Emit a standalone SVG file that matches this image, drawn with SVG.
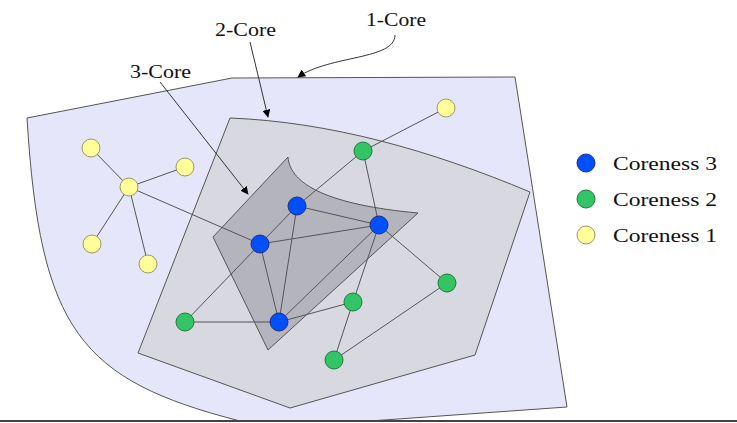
<svg xmlns="http://www.w3.org/2000/svg" width="737" height="423" viewBox="0 0 737 423">
<defs>
<style>
.lbl{font-family:"Liberation Serif","DejaVu Serif",serif;font-size:19px;fill:#111}
.e{stroke:#555;stroke-width:1;fill:none}
.y{fill:#ffff99;stroke:#999966;stroke-width:1}
.g{fill:#33c466;stroke:#1f7a3f;stroke-width:1}
.b{fill:#0050ff;stroke:#1f2f80;stroke-width:1}
.pt{stroke:#333;stroke-width:1;fill:none}
</style>
<marker id="ah" viewBox="0 0 10 10" refX="9" refY="5" markerWidth="8" markerHeight="8" orient="auto"><path d="M0,0 L10,5 L0,10 z" fill="#000"/></marker>
</defs>
<rect width="737" height="423" fill="#fff"/>
<g id="core1"><path d="M27,118 L232,78 L515,77 L567,407 L370,421 L240,421 C80,380 40,330 27,118 Z" fill="#e6e6fa" stroke="#555"/></g>
<g id="core2"><path d="M230,118 C330,122 430,150 530,192 L475,355 L290,408 L138,353 Z" fill="#d8d8e0" stroke="#555"/></g>
<g id="core3"><path d="M213,237 L288,157 C290,185 330,205 418,213 L268,350 Z" fill="#b4b4bc" stroke="#555"/></g>
<line x1="0" y1="421" x2="737" y2="421" stroke="#444" stroke-width="2"/>
<g id="connectors">
<path class="e" d="M129,187L91,148M129,187L185,167M129,187L92,244M129,187L148,264M129,187L260,244M446,108L363,151L297,206M363,151L379,225M297,206L379,225M297,206L260,244M297,206L279,322M260,244L379,225M260,244L279,322M379,225L279,322M260,244L185,322L279,322L353,302M379,225L353,302M379,225L447,283L334,360L353,302"/>
<path class="pt" d="M395,35 C395,60 330,55 298,77" marker-end="url(#ah)"/>
<line class="pt" x1="250" y1="42" x2="268" y2="117" marker-end="url(#ah)"/>
<line class="pt" x1="160" y1="82" x2="248" y2="194" marker-end="url(#ah)"/>
</g>
<g id="nodes">
<circle class="y" cx="91" cy="148" r="9"/><circle class="y" cx="185" cy="167" r="9"/><circle class="y" cx="129" cy="187" r="9"/><circle class="y" cx="92" cy="244" r="9"/><circle class="y" cx="148" cy="264" r="9"/><circle class="y" cx="446" cy="108" r="9"/>
<circle class="g" cx="363" cy="151" r="9"/><circle class="g" cx="185" cy="322" r="9"/><circle class="g" cx="353" cy="302" r="9"/><circle class="g" cx="447" cy="283" r="9"/><circle class="g" cx="334" cy="360" r="9"/>
<circle class="b" cx="297" cy="206" r="9"/><circle class="b" cx="379" cy="225" r="9"/><circle class="b" cx="260" cy="244" r="9"/><circle class="b" cx="279" cy="322" r="9"/>
</g>
<g id="labels">
<text class="lbl" x="366" y="26" textLength="60" lengthAdjust="spacingAndGlyphs">1-Core</text>
<text class="lbl" x="215" y="36" textLength="61" lengthAdjust="spacingAndGlyphs">2-Core</text>
<text class="lbl" x="130" y="78" textLength="61" lengthAdjust="spacingAndGlyphs">3-Core</text>
</g>
<g id="legend">
<circle class="b" cx="586" cy="163" r="9"/><text class="lbl" x="613" y="170" textLength="104" lengthAdjust="spacingAndGlyphs">Coreness 3</text>
<circle class="g" cx="586" cy="199" r="9"/><text class="lbl" x="613" y="206" textLength="104" lengthAdjust="spacingAndGlyphs">Coreness 2</text>
<circle class="y" cx="586" cy="235" r="9"/><text class="lbl" x="613" y="242" textLength="104" lengthAdjust="spacingAndGlyphs">Coreness 1</text>
</g>
</svg>
